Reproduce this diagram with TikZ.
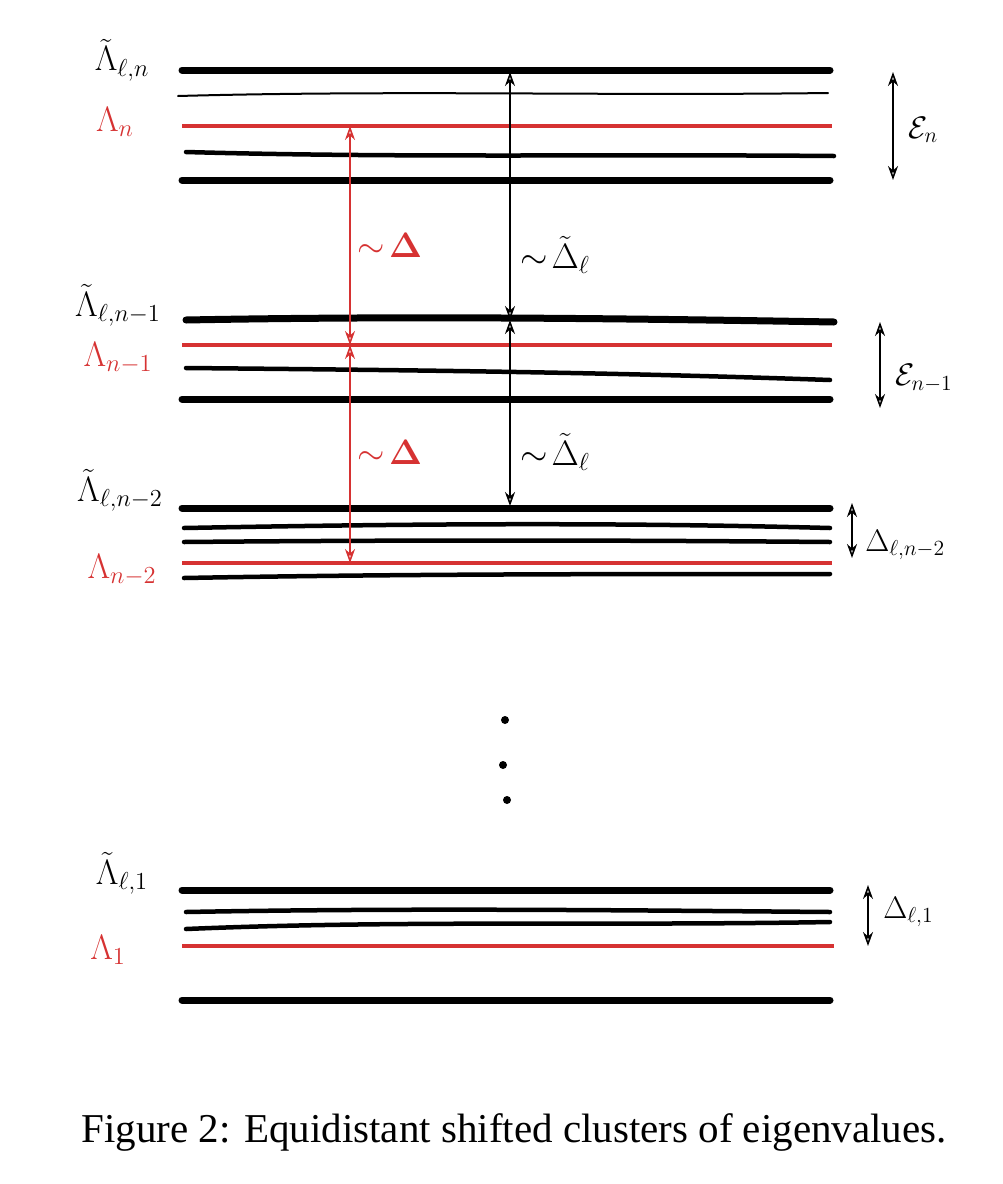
\documentclass[tikz,border=0pt]{standalone}
\usepackage{fontspec}
\setmainfont{Liberation Serif}
\usepackage{amsmath}
\usetikzlibrary{arrows.meta}
\definecolor{hred}{RGB}{214,50,50}
\tikzset{
  thickl/.style={line width=7pt,line cap=round},
  medl/.style={line width=4.5pt,line cap=round},
  thinl/.style={line width=2pt,line cap=round},
  redl/.style={line width=3.5pt,hred},
  dbl/.style={line width=1.6pt,{Stealth[length=14pt,width=10pt,open]}-{Stealth[length=14pt,width=10pt,open]}},
  lab/.style={font=\fontsize{20}{24}\selectfont,scale=1.7},
  rlab/.style={lab,text=hred},
  slab/.style={font=\fontsize{20}{24}\selectfont,scale=1.5,anchor=west}
}
\begin{document}
\begin{tikzpicture}[x=1pt,y=-1pt]
\useasboundingbox (0,0) rectangle (1002,1184);
% cluster n
\draw[thickl] (182,70) -- (830,70);
\draw[thinl] (178,96) .. controls (400,90) and (600,96) .. (828,93);
\draw[redl] (182,126) -- (832,126);
\draw[medl] (186,152) .. controls (400,158) and (600,154) .. (834,156);
\draw[thickl] (182,180) -- (830,180);
% cluster n-1
\draw[thickl] (186,320) .. controls (400,316) and (600,318) .. (834,322);
\draw[redl] (182,345) -- (832,345);
\draw[medl] (186,368) .. controls (400,370) and (600,372) .. (830,380);
\draw[thickl] (182,399) -- (830,399);
% cluster n-2
\draw[thickl] (182,508) -- (830,508);
\draw[medl] (184,528) .. controls (400,524) and (600,522) .. (830,528);
\draw[medl] (184,542) .. controls (400,540) and (600,540) .. (830,542);
\draw[redl] (182,563) -- (832,563);
\draw[medl] (184,578) .. controls (400,574) and (600,574) .. (830,574);
% cluster 1
\draw[thickl] (182,890) -- (830,890);
\draw[medl] (186,912) .. controls (400,908) and (600,910) .. (830,912);
\draw[medl] (186,929) .. controls (400,920) and (600,926) .. (830,922);
\draw[redl] (182,946) -- (834,946);
\draw[thickl] (182,1000) -- (830,1000);
% dots
\fill (505,720) circle (4pt);
\fill (503,765) circle (4pt);
\fill (507,800) circle (4pt);
% coordinates
\coordinate (r1) at (350,126); \coordinate (r2) at (350,345); \coordinate (r3) at (350,563);
\coordinate (b1) at (510,72); \coordinate (b2) at (510,320); \coordinate (b3) at (510,506);
\draw[dbl,hred] (r1) -- (r2);
\draw[dbl,hred] (r2) -- (r3);
\draw[dbl] (b1) -- (b2);
\draw[dbl] (b2) -- (b3);
\node[rlab] (d1) at (390,245) {$\sim\!\boldsymbol\Delta$};
\node[rlab] (d2) at (390,452) {$\sim\!\boldsymbol\Delta$};
\node[lab] (e1) at (555,255) {$\sim\!\tilde\Delta_\ell$};
\node[lab] (e2) at (555,452) {$\sim\!\tilde\Delta_\ell$};
% right arrows
\coordinate (s1a) at (893,72); \coordinate (s1b) at (893,180);
\coordinate (s2a) at (880,322); \coordinate (s2b) at (880,408);
\coordinate (s3a) at (852,503); \coordinate (s3b) at (852,558);
\coordinate (s4a) at (868,885); \coordinate (s4b) at (868,946);
\draw[dbl] (s1a) -- (s1b);
\draw[dbl] (s2a) -- (s2b);
\draw[dbl] (s3a) -- (s3b);
\draw[dbl] (s4a) -- (s4b);
\node[slab] (t1) at (903,130) {$\mathcal{E}_n$};
\node[slab] (t2) at (890,378) {$\mathcal{E}_{n-1}$};
\node[slab] (t3) at (860,545) {$\Delta_{\ell,n-2}$};
\node[slab] (t4) at (878,912) {$\Delta_{\ell,1}$};
% left labels
\node[lab] (L1) at (122,60) {$\tilde\Lambda_{\ell,n}$};
\node[rlab] (R1) at (115,122) {$\Lambda_n$};
\node[lab] (L2) at (118,305) {$\tilde\Lambda_{\ell,n-1}$};
\node[rlab] (R2) at (118,358) {$\Lambda_{n-1}$};
\node[lab] (L3) at (120,490) {$\tilde\Lambda_{\ell,n-2}$};
\node[rlab] (R3) at (122,570) {$\Lambda_{n-2}$};
\node[lab] (L4) at (122,873) {$\tilde\Lambda_{\ell,1}$};
\node[rlab] (R4) at (108,950) {$\Lambda_1$};
\node[font=\fontsize{41}{46}\selectfont] (cap) at (514,1132) {Figure 2: Equidistant shifted clusters of eigenvalues.};
\end{tikzpicture}
\end{document}
